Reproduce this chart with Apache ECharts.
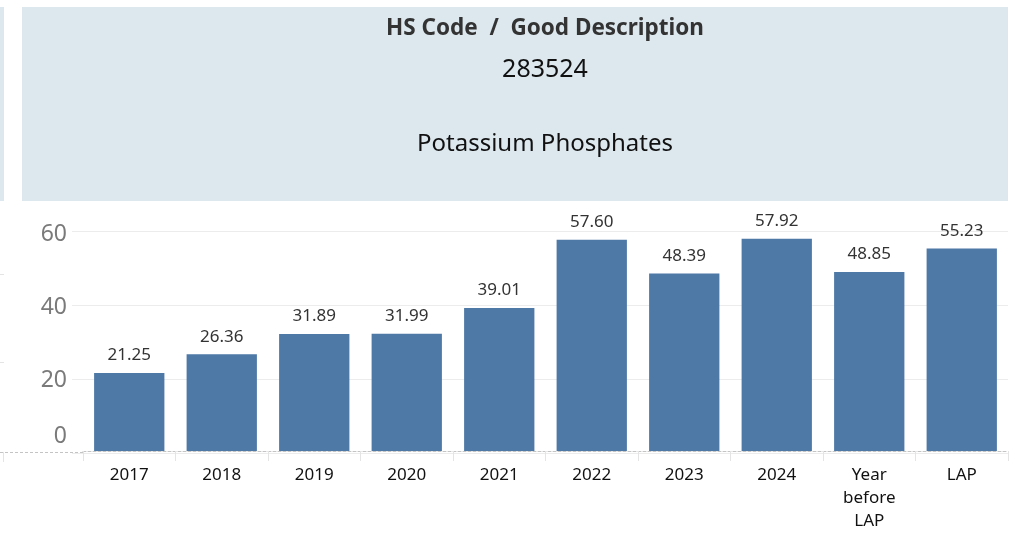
<!DOCTYPE html>
<html>
<head>
<meta charset="utf-8">
<script src="https://cdn.jsdelivr.net/npm/echarts@6/dist/echarts.min.js"></script>
<style>
html,body{margin:0;padding:0;background:#fff;}
#chart{width:1021px;height:533px;}
</style>
</head>
<body>
<div id="chart"></div>
<script>
const categories = ['2017','2018','2019','2020','2021','2022','2023','2024','Year\nbefore\nLAP','LAP'];
const values = [21.25, 26.36, 31.89, 31.99, 39.01, 57.60, 48.39, 57.92, 48.85, 55.23];
const yTicks = [0, 20, 40, 60];
const headerTitle = 'HS Code  /  Good Description';
const headerCode = '283524';
const headerDesc = 'Potassium Phosphates';

const FONT = '"Noto Sans", "Open Sans", sans-serif';
const panel = '#dce8ee';
const chart = echarts.init(document.getElementById('chart'), null, {renderer: 'canvas'});

const option = {
  backgroundColor: '#ffffff',
  animation: false,
  textStyle: {fontFamily: FONT},
  graphic: [
    {type: 'rect', shape: {x: 0, y: 7, width: 4, height: 194}, style: {fill: panel}, silent: true},
    {type: 'rect', shape: {x: 22, y: 7, width: 986, height: 194}, style: {fill: panel}, silent: true},
    {type: 'text', x: 545, y: 29, style: {text: headerTitle, align: 'center', verticalAlign: 'middle', font: 'bold 22.5px ' + FONT, fill: '#333333'}, silent: true},
    {type: 'text', x: 545, y: 70, style: {text: headerCode, align: 'center', verticalAlign: 'middle', font: '25px ' + FONT, fill: '#111111'}, silent: true},
    {type: 'text', x: 545, y: 144, style: {text: headerDesc, align: 'center', verticalAlign: 'middle', font: '24px ' + FONT, fill: '#111111'}, silent: true},
    {type: 'line', shape: {x1: 0, y1: 452.5, x2: 83, y2: 452.5}, style: {stroke: '#c4c4c4', lineWidth: 1, lineDash: [3, 2]}, silent: true},
    {type: 'line', shape: {x1: 3.5, y1: 452, x2: 3.5, y2: 462}, style: {stroke: '#e4e4e4', lineWidth: 1}, silent: true},
    {type: 'line', shape: {x1: 0, y1: 274.5, x2: 4, y2: 274.5}, style: {stroke: '#e4e4e4', lineWidth: 1}, silent: true},
    {type: 'line', shape: {x1: 0, y1: 362.5, x2: 4, y2: 362.5}, style: {stroke: '#e4e4e4', lineWidth: 1}, silent: true}
  ],
  grid: [
    {left: 72, right: 13, top: 231, bottom: 80},
    {left: 83, right: 13, top: 231, bottom: 80}
  ],
  xAxis: [
    {gridIndex: 0, type: 'value', show: false, min: 0, max: 1},
    {
      gridIndex: 1, type: 'category', data: categories,
      axisLine: {show: true, lineStyle: {color: '#c4c4c4', type: [3, 2], width: 1}},
      axisTick: {show: true, length: 10, lineStyle: {color: '#e4e4e4'}},
      axisLabel: {color: '#111111', fontSize: 17, lineHeight: 23, margin: 13, interval: 0, fontFamily: FONT}
    }
  ],
  yAxis: [
    {
      gridIndex: 0, type: 'value', min: 0, max: 60, interval: 20,
      axisLine: {show: false}, axisTick: {show: false}, axisLabel: {show: false},
      splitLine: {show: true, lineStyle: {color: '#ececec', width: 1}}
    },
    {
      gridIndex: 1, type: 'value', min: 0, max: 60, interval: 20,
      axisLine: {show: false}, axisTick: {show: false},
      splitLine: {show: false},
      axisLabel: {
        margin: 16, color: '#7a7a7a', fontSize: 23, fontFamily: FONT,
        formatter: function (v) { return v === 0 ? '{z|0}' : '{n|' + v + '}'; },
        rich: {
          z: {fontSize: 23, color: '#7a7a7a', padding: [0, 0, 30, 0]},
          n: {fontSize: 23, color: '#7a7a7a', padding: [6, 0, 0, 0]}
        }
      }
    }
  ],
  series: [{
    type: 'bar', xAxisIndex: 1, yAxisIndex: 1,
    data: values,
    barCategoryGap: '24%',
    itemStyle: {color: '#4e79a7'},
    label: {
      show: true, position: 'top', distance: 9,
      color: '#333333', fontSize: 17, fontFamily: FONT,
      formatter: function (p) { return p.value.toFixed(2); }
    }
  }]
};
chart.setOption(option);
</script>
</body>
</html>
